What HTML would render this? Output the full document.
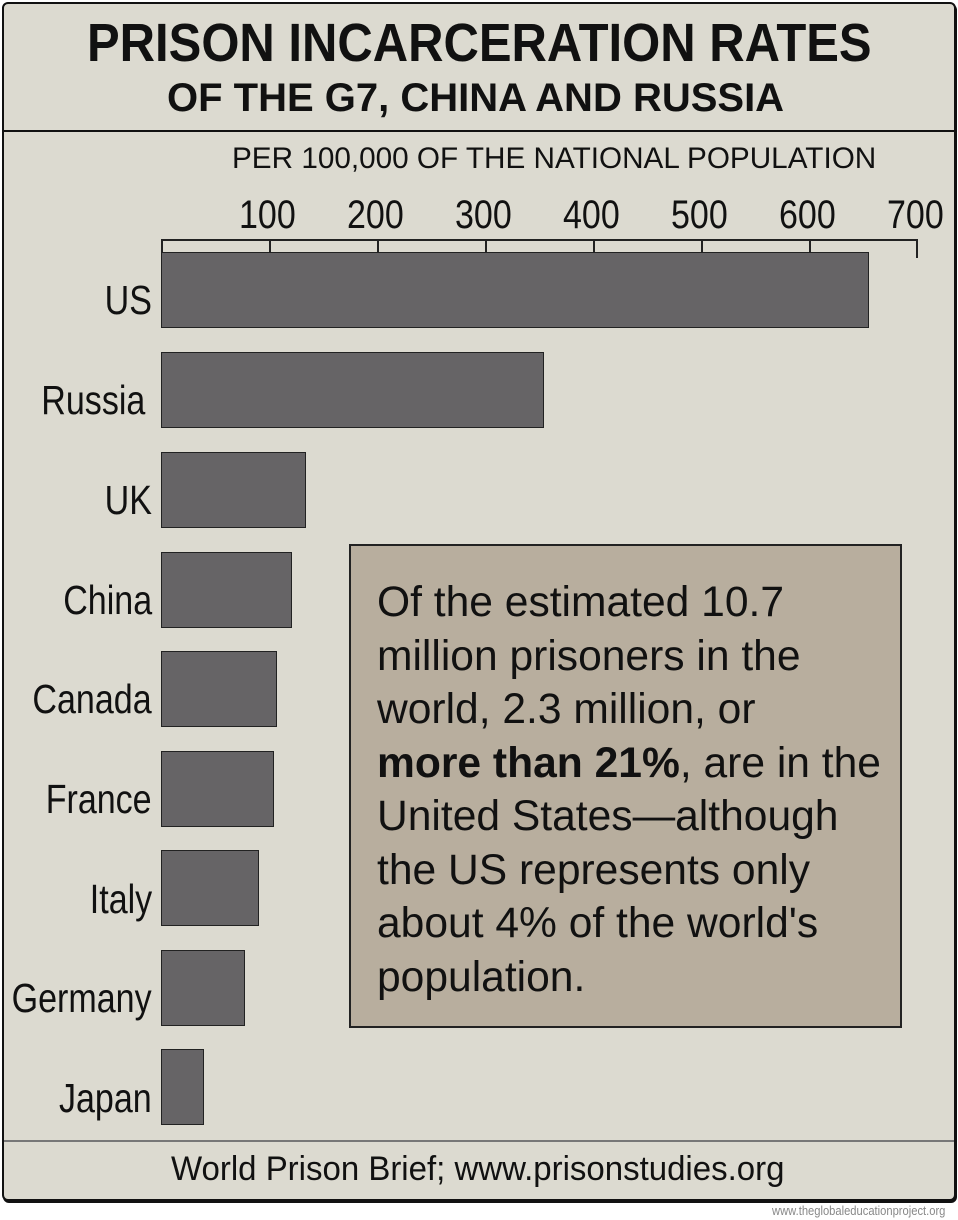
<!DOCTYPE html>
<html><head><meta charset="utf-8"><style>
body{margin:0;width:958px;height:1220px;background:#fff;position:relative;overflow:hidden;font-family:"Liberation Sans",sans-serif;}
.box{position:absolute;left:2px;top:2px;width:950px;height:1195px;border:2px solid #111;border-radius:6px;background:#dcdad0;box-shadow:1px 2px 0 #111;}
.t{position:absolute;white-space:nowrap;color:#111;transform-origin:0 0;}
.bar{position:absolute;background:#666466;border:1px solid #222;box-sizing:border-box;left:161px;height:76px;}
.lab{position:absolute;right:806px;font-size:41px;white-space:nowrap;transform:scaleX(.83);transform-origin:100% 0;color:#111;}
.tick{position:absolute;top:240px;width:1.5px;height:12px;background:#222;}
.n{position:absolute;top:193px;font-size:40px;transform:scaleX(.85);transform-origin:0 0;color:#111;}
</style></head><body>
<div class="box"></div>
<div class="t" style="left:87px;top:12px;font-size:54px;font-weight:bold;transform:scaleX(.907);">PRISON INCARCERATION RATES</div>
<div class="t" style="left:167px;top:76px;font-size:40px;font-weight:bold;transform:scaleX(1.0);">OF THE G7, CHINA AND RUSSIA</div>
<div style="position:absolute;left:4px;top:130px;width:950px;height:2px;background:#111;"></div>
<div class="t" style="left:232px;top:142px;font-size:30px;transform:scaleX(.99);">PER 100,000 OF THE NATIONAL POPULATION</div>
<div class="n" style="left:239px">100</div>
<div class="n" style="left:347px">200</div>
<div class="n" style="left:455px">300</div>
<div class="n" style="left:563px">400</div>
<div class="n" style="left:671px">500</div>
<div class="n" style="left:779px">600</div>
<div class="n" style="left:887px">700</div>
<div style="position:absolute;left:161px;top:239px;width:757px;height:1.5px;background:#222;"></div>
<div class="tick" style="left:161px"></div><div class="tick" style="left:269px"></div><div class="tick" style="left:377px"></div><div class="tick" style="left:485px"></div><div class="tick" style="left:593px"></div><div class="tick" style="left:701px"></div><div class="tick" style="left:809px"></div><div class="tick" style="left:916px;height:18px"></div>
<div class="bar" style="top:252px;width:708px"></div>
<div class="bar" style="top:352px;width:383px"></div>
<div class="bar" style="top:452px;width:145px"></div>
<div class="bar" style="top:552px;width:131px"></div>
<div class="bar" style="top:651px;width:116px"></div>
<div class="bar" style="top:751px;width:113px"></div>
<div class="bar" style="top:850px;width:98px"></div>
<div class="bar" style="top:950px;width:84px"></div>
<div class="bar" style="top:1049px;width:43px"></div>
<div class="lab" style="top:277px">US</div>
<div class="lab" style="top:377px;right:813px">Russia</div>
<div class="lab" style="top:477px">UK</div>
<div class="lab" style="top:577px">China</div>
<div class="lab" style="top:676px">Canada</div>
<div class="lab" style="top:776px">France</div>
<div class="lab" style="top:876px">Italy</div>
<div class="lab" style="top:975px">Germany</div>
<div class="lab" style="top:1075px">Japan</div>
<div style="position:absolute;left:349px;top:544px;width:553px;height:484px;box-sizing:border-box;border:2px solid #222;background:#b8ae9e;"></div>
<div class="t" style="left:377px;top:576px;font-size:43px;line-height:53.5px;transform:scaleX(.99);">Of the estimated 10.7<br>million prisoners in the<br>world, 2.3 million, or<br><b>more than 21%</b>, are in the<br>United States—although<br>the US represents only<br>about 4% of the world's<br>population.</div>
<div style="position:absolute;left:4px;top:1140px;width:950px;height:1.5px;background:#777;"></div>
<div class="t" style="left:171px;top:1150px;font-size:34px;transform:scaleX(.97);">World Prison Brief; www.prisonstudies.org</div>
<div class="t" style="left:772px;top:1203px;font-size:13px;color:#888;transform:scaleX(.86);">www.theglobaleducationproject.org</div>
</body></html>
